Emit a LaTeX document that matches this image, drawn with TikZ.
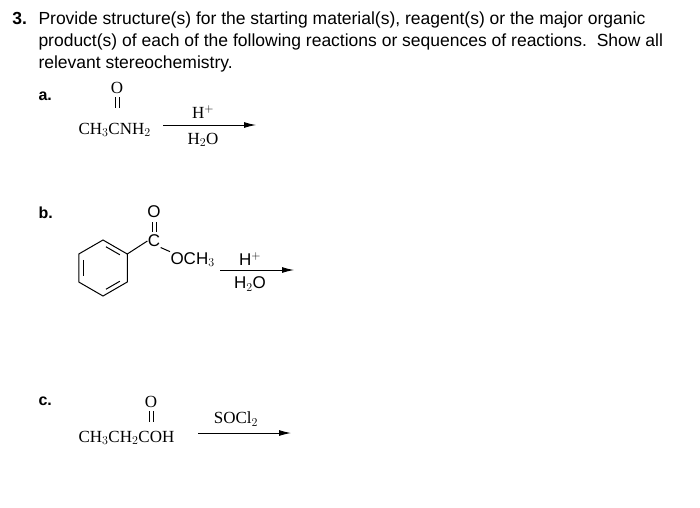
\documentclass[tikz,border=0pt]{standalone}
\usepackage{fontspec}
\usetikzlibrary{arrows.meta,calc}
\setmainfont{Liberation Serif}
\newfontfamily\ars{Liberation Sans}
\begin{document}
\begin{tikzpicture}[x=1pt,y=-1pt,line width=1pt,
  hd/.style={font=\ars\fontsize{17.5}{21}\selectfont,anchor=base west,inner sep=0},
  lab/.style={font=\ars\bfseries\fontsize{16}{19}\selectfont,anchor=base west,inner sep=0},
  tm/.style={font=\fontsize{17}{20}\selectfont,inner sep=0},
  sf/.style={font=\ars\fontsize{17}{20}\selectfont,inner sep=0},
  arr/.style={-{Latex[length=12pt,width=6pt]},line width=0.9pt}]
\useasboundingbox (0,0) rectangle (700,507);
\node[hd] (n3) at (12,24) {\bfseries 3.};
\node[hd] (l1) at (38,24) {Provide structure(s) for the starting material(s), reagent(s) or the major organic};
\node[hd] (l2) at (38,46) {product(s) of each of the following reactions or sequences of reactions.\ \ Show all};
\node[hd] (l3) at (38,68) {relevant stereochemistry.};
% a
\node[lab] (la) at (38,100) {a.};
\node[tm,anchor=base west] (fa) at (78,134) {CH$_3$CNH$_2$};
\node[tm] (oa) at (117,88) {O};
\draw[line width=0.8pt] (115,97) -- (115,108) (119,97) -- (119,108);
\coordinate (a1) at (163,125); \coordinate (a2) at (256,125);
\draw[arr] (a1) -- (a2);
\node[tm] (ha) at (203,112) {H$^+$};
\node[tm] (wa) at (203,140) {H$_2$O};
% b
\node[lab] (lb) at (38,218) {b.};
\foreach \i in {0,...,5} \coordinate (r\i) at ({103+28*cos(90+60*\i)},{268-28*sin(90+60*\i)});
\draw (r0)--(r1)--(r2)--(r3)--(r4)--(r5)--cycle;
\path (103,268) coordinate (cc);
\foreach \p/\q in {r1/r2,r3/r4,r5/r0}
  \draw ($(cc)!0.82!(\p)!0.15!($(cc)!0.82!(\q)$)$) -- ($(cc)!0.82!(\p)!0.85!($(cc)!0.82!(\q)$)$);
\node[sf] (cb) at (154,241) {C};
\node[sf] (ob) at (154,212) {O};
\draw (152,222) -- (152,232) (156,222) -- (156,232);
\draw (r5) -- (cb.west);
\node[sf,anchor=base west] (och) at (170,264) {OCH$_3$};
\draw (cb.south east) -- (och.north west);
\coordinate (b1) at (220,270); \coordinate (b2) at (294,270);
\draw[arr] (b1) -- (b2);
\node[sf] (hb) at (250,259) {H$^+$};
\node[sf] (wb) at (250,284) {H$_2$O};
% c
\node[lab] (lc) at (38,405) {c.};
\node[tm,anchor=base west] (fc) at (78,442) {CH$_3$CH$_2$COH};
\node[tm] (oc) at (151,402) {O};
\draw[line width=0.8pt] (149,411) -- (149,422) (153,411) -- (153,422);
\coordinate (c1) at (198,433); \coordinate (c2) at (291,433);
\draw[arr] (c1) -- (c2);
\node[tm] (sc) at (236,419) {SOCl$_2$};
\end{tikzpicture}
\end{document}
